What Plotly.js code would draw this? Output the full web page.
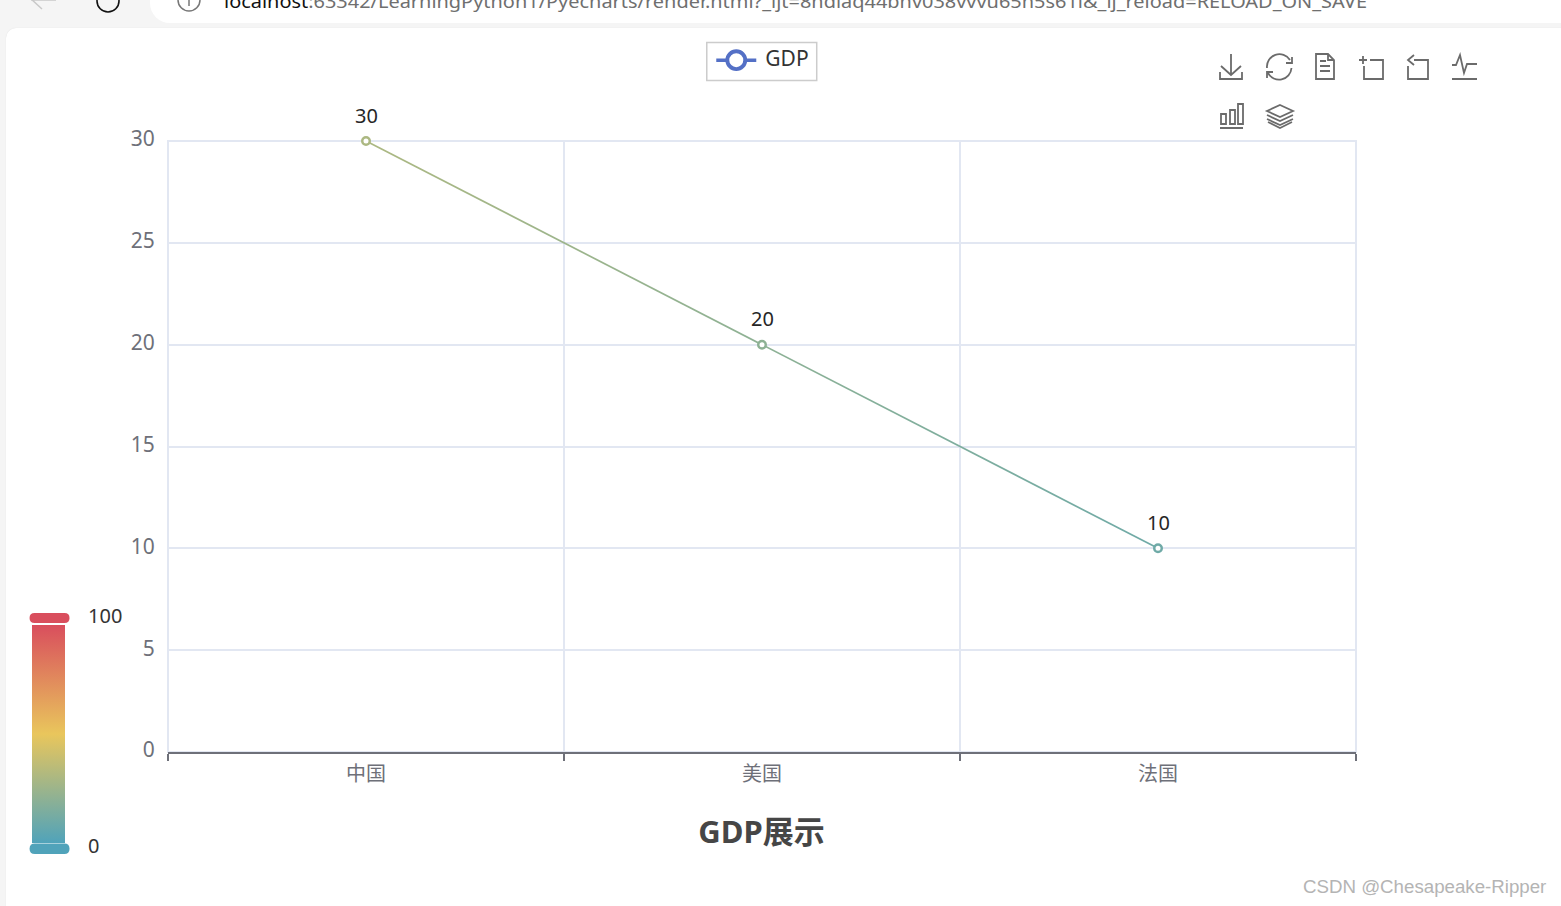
<!DOCTYPE html>
<html>
<head>
<meta charset="utf-8">
<script src="https://cdn.plot.ly/plotly-3.0.1.min.js"></script>
<style>
html,body{margin:0;padding:0;width:1561px;height:906px;overflow:hidden;background:#f5f5f5;}
#card{position:absolute;left:6px;top:28px;width:1600px;height:900px;background:#fff;border-radius:10px;box-shadow:0 0 1px #d8d8d8;}
#urlbar{position:absolute;left:150px;top:-30px;width:1500px;height:53px;background:#fff;border-radius:20px;}
#chrome,#icons{position:absolute;left:0;top:0;}
#chart{position:absolute;left:0;top:0;width:1561px;height:906px;}
</style>
</head>
<body>
<div id="card"></div>
<div id="urlbar"></div>
<svg id="chrome" width="1561" height="30">
  <path d="M30 -2 L42 9 M31 0 L56 0" fill="none" stroke="#c9c9c9" stroke-width="1.5"/>
  <circle cx="108" cy="1" r="11" fill="none" stroke="#111" stroke-width="1.6"/>
  <circle cx="189" cy="0" r="11" fill="none" stroke="#777" stroke-width="1.5"/>
  <path d="M189 0 V6" stroke="#777" stroke-width="1.5"/>
  <text x="224" y="8" font-family="Noto Sans, Open Sans, sans-serif" font-size="18" textLength="1143" lengthAdjust="spacingAndGlyphs" fill="#6f6f6f"><tspan fill="#111">localhost</tspan>:63342/LearningPython1/Pyecharts/render.html?_ijt=8ndlaq44bnv038vvvu65n5s61l&amp;_ij_reload=RELOAD_ON_SAVE</text>
</svg>
<div id="chart"></div>
<svg id="icons" width="1561" height="140" fill="none" stroke="#6b6b6b" stroke-width="1.8">
  <path d="M1231 54 V75 M1221 66 L1231 75 L1241 66 M1220 72 V79 H1242 V72"/>
  <path d="M1267 68 A12.5 12.5 0 0 1 1290 60 M1291.5 68 A12.5 12.5 0 0 1 1268 73 M1292 57 V63 H1286 M1267 78 V72 H1273"/>
  <path d="M1316 54 H1328 L1334 60 V79 H1316 Z M1328 54 V60 H1334 M1320 61 H1326 M1320 66 H1330 M1320 71 H1330"/>
  <path d="M1359 60 H1367 M1363 56 V64 M1370 60 H1383 V79 H1364 V66"/>
  <path d="M1414 60 H1428 V79 H1408 V66 M1414 55 L1408 60 L1414 65"/>
  <path d="M1452 65 H1456 L1460 55 L1464 73 L1467 64 H1477 M1452 79 H1477"/>
  <path d="M1221 114 H1226 V124 H1221 Z M1230 110 H1235 V124 H1230 Z M1238 104 H1243 V124 H1238 Z M1220 128 H1243"/>
  <path d="M1280 105 L1293 111 L1280 117 L1267 111 Z M1267 115 L1280 121 L1293 115 M1267 119 L1280 125 L1293 119 M1268 122 L1280 128 L1292 122"/>
</svg>
<script>
const categories = ['中国', '美国', '法国'];
const gdpValues = [30, 20, 10];
const seriesName = 'GDP';
const yTicks = [0, 5, 10, 15, 20, 25, 30];
const scaleStops = ['#50a3ba', '#e9c65c', '#d94e5d'];
const scaleRange = [0, 100];
const chartTitle = 'GDP展示';
const watermark = 'CSDN @Chesapeake-Ripper';

const W = 1561, H = 906;
const plot = {l: 167.5, r: 1356, t: 141, b: 752};
const px = x => (x - plot.l) / (plot.r - plot.l);
const py = y => (plot.b - y) / (plot.b - plot.t);
const colorscale = scaleStops.map((c, i) => [i / (scaleStops.length - 1), c]);
const font = '"Noto Sans", "Noto Sans CJK SC", sans-serif';
const gridColor = '#e2e7f2';

function scaleColor(v) {
  const t = (v - scaleRange[0]) / (scaleRange[1] - scaleRange[0]) * (scaleStops.length - 1);
  const i = Math.min(Math.floor(t), scaleStops.length - 2), f = t - i;
  const rgb = s => [1, 3, 5].map(k => parseInt(s.substr(k, 2), 16));
  const a = rgb(scaleStops[i]), b = rgb(scaleStops[i + 1]);
  return 'rgb(' + a.map((x, k) => Math.round(x + (b[k] - x) * f)).join(',') + ')';
}

function pill(x0, x1, y0, y1, color) {
  const r = (y1 - y0) / 2;
  const X = v => px(v), Y = v => py(v);
  return {
    type: 'path', xref: 'paper', yref: 'paper', fillcolor: color, line: {width: 0}, layer: 'above',
    path: `M ${X(x0 + r)} ${Y(y0)} L ${X(x1 - r)} ${Y(y0)} Q ${X(x1)} ${Y(y0)} ${X(x1)} ${Y(y0 + r)} Q ${X(x1)} ${Y(y1)} ${X(x1 - r)} ${Y(y1)} L ${X(x0 + r)} ${Y(y1)} Q ${X(x0)} ${Y(y1)} ${X(x0)} ${Y(y0 + r)} Q ${X(x0)} ${Y(y0)} ${X(x0 + r)} ${Y(y0)} Z`
  };
}

const traces = [
  {
    x: categories, y: gdpValues, type: 'scatter', mode: 'lines+markers', showlegend: false, hoverinfo: 'x+y', cliponaxis: false,
    line: {color: scaleColor(20), width: 1.7},
    marker: {color: '#ffffff', size: 7, line: {width: 0}}
  },
  {
    x: categories, y: gdpValues, type: 'scatter', mode: 'markers', showlegend: false, hoverinfo: 'skip', cliponaxis: false,
    marker: {
      symbol: 'circle-open', size: 7.5, color: gdpValues, colorscale: colorscale,
      cmin: scaleRange[0], cmax: scaleRange[1], line: {width: 2.5},
      showscale: true,
      colorbar: {
        xref: 'container', x: 32 / W, xanchor: 'left', yref: 'paper', y: py(842.5), yanchor: 'bottom',
        lenmode: 'pixels', len: 218, thicknessmode: 'pixels', thickness: 33,
        xpad: 0, ypad: 0, outlinewidth: 0, borderwidth: 0, ticks: '', showticklabels: false
      }
    }
  },
  {
    x: [null], y: [null], name: seriesName, type: 'scatter', mode: 'lines+markers', hoverinfo: 'skip',
    line: {color: '#5470c6', width: 3.5},
    marker: {color: '#ffffff', size: 16, line: {color: '#5470c6', width: 3.5}}
  }
];

const labelAnnotations = categories.map((c, i) => ({
  x: c, y: gdpValues[i], xref: 'x', yref: 'y', text: String(gdpValues[i]), showarrow: false,
  yanchor: 'middle', yshift: 26, font: {family: font, size: 20, color: '#262626'}
}));

const legendEnds = scaleRange.slice().reverse().map((v, i) => ({
  x: px(85), y: py([615, 846][i]), xref: 'paper', yref: 'paper', xanchor: 'left', yanchor: 'middle',
  text: String(v), showarrow: false, font: {family: font, size: 20, color: '#333333'}
}));

const layout = {
  width: W, height: H, autosize: false,
  paper_bgcolor: 'rgba(0,0,0,0)', plot_bgcolor: 'rgba(0,0,0,0)',
  margin: {l: plot.l, r: W - plot.r, t: plot.t, b: H - plot.b, pad: 0},
  font: {family: font},
  title: {
    text: '<b>' + chartTitle + '</b>', font: {family: font, size: 31, color: '#464646'},
    x: 761.5 / W, xanchor: 'center', xref: 'container', y: 1 - 832 / H, yanchor: 'middle', yref: 'container'
  },
  showlegend: true,
  legend: {
    x: px(711), xanchor: 'left', y: py(40), yanchor: 'top', orientation: 'h', itemwidth: 40,
    borderwidth: 0, bgcolor: 'rgba(0,0,0,0)',
    font: {family: font, size: 21, color: '#333333'}
  },
  xaxis: {
    type: 'category', categoryorder: 'array', categoryarray: categories, tickson: 'boundaries',
    range: [-0.5, categories.length - 0.5], fixedrange: true,
    showgrid: true, gridcolor: gridColor, gridwidth: 2,
    showline: true, linecolor: '#6e7079', linewidth: 1.5,
    ticks: 'outside', ticklen: 7, tickwidth: 1.5, tickcolor: '#6e7079', ticklabelstandoff: 3,
    tickfont: {family: font, size: 20, color: '#6e7079'}, zeroline: false
  },
  yaxis: {
    range: [0, 30], tickmode: 'array', tickvals: yTicks, ticktext: yTicks.map(String), fixedrange: true,
    showgrid: true, gridcolor: gridColor, gridwidth: 2, zeroline: false, showline: false,
    ticks: 'outside', ticklen: 8, tickcolor: 'rgba(0,0,0,0)', ticklabelshift: -2,
    tickfont: {family: font, size: 21, color: '#6e7079'}
  },
  annotations: labelAnnotations.concat(legendEnds, [{
    x: px(1548.5), y: py(886), xref: 'paper', yref: 'paper', xanchor: 'right', yanchor: 'middle',
    text: watermark, showarrow: false, font: {family: '"Liberation Sans", Arial, sans-serif', size: 18.7, color: '#b4b4b4'}
  }]),
  shapes: [
    pill(29, 69, 613, 623, scaleStops[2]),
    pill(29, 69, 843.5, 854, scaleStops[0]),
    {type: 'rect', xref: 'paper', yref: 'paper', x0: 0, x1: 1, y0: 0, y1: 1, layer: 'below', line: {color: gridColor, width: 2}},
    {type: 'rect', xref: 'paper', yref: 'paper', x0: px(706.5), x1: px(816.5), y0: py(42.5), y1: py(80.5), layer: 'above', line: {color: '#cccccc', width: 1.5}}
  ]
};

function polish() {
  const svg = document.querySelector('#chart .main-svg');
  const path = document.querySelector('#chart .scatterlayer .trace .js-line');
  if (!svg || !path) return;
  const ns = 'http://www.w3.org/2000/svg';
  let g = document.getElementById('lineGrad');
  if (!g) {
    g = document.createElementNS(ns, 'linearGradient');
    g.setAttribute('id', 'lineGrad');
    g.setAttribute('x1', '0'); g.setAttribute('y1', '0'); g.setAttribute('x2', '0'); g.setAttribute('y2', '1');
    const top = Math.max(...gdpValues), bottom = Math.min(...gdpValues);
    [[0, top], [1, bottom]].forEach(([o, v]) => {
      const s = document.createElementNS(ns, 'stop');
      s.setAttribute('offset', o);
      s.setAttribute('stop-color', scaleColor(v));
      g.appendChild(s);
    });
    svg.querySelector('defs').appendChild(g);
  }
  path.style.stroke = 'url(#lineGrad)';
  // Legend fine tuning: wider gap before the text, slightly larger ring.
  const lt = document.querySelector('#chart .legendtext');
  if (lt && !lt.dataset.moved) {
    lt.dataset.moved = '1';
    lt.setAttribute('x', parseFloat(lt.getAttribute('x')) + 4);
    lt.setAttribute('y', parseFloat(lt.getAttribute('y')) - 2);
  }
  const lp = document.querySelector('#chart .legendpoints .scatterpts');
  if (lp) {
    const t = lp.getAttribute('transform') || '';
    if (!t.includes('scale')) lp.setAttribute('transform', t + ' scale(1.12)');
  }
}

Plotly.newPlot('chart', traces, layout, {displayModeBar: false, responsive: false}).then(gd => {
  polish();
  gd.on('plotly_afterplot', polish);
});
</script>
</body>
</html>
